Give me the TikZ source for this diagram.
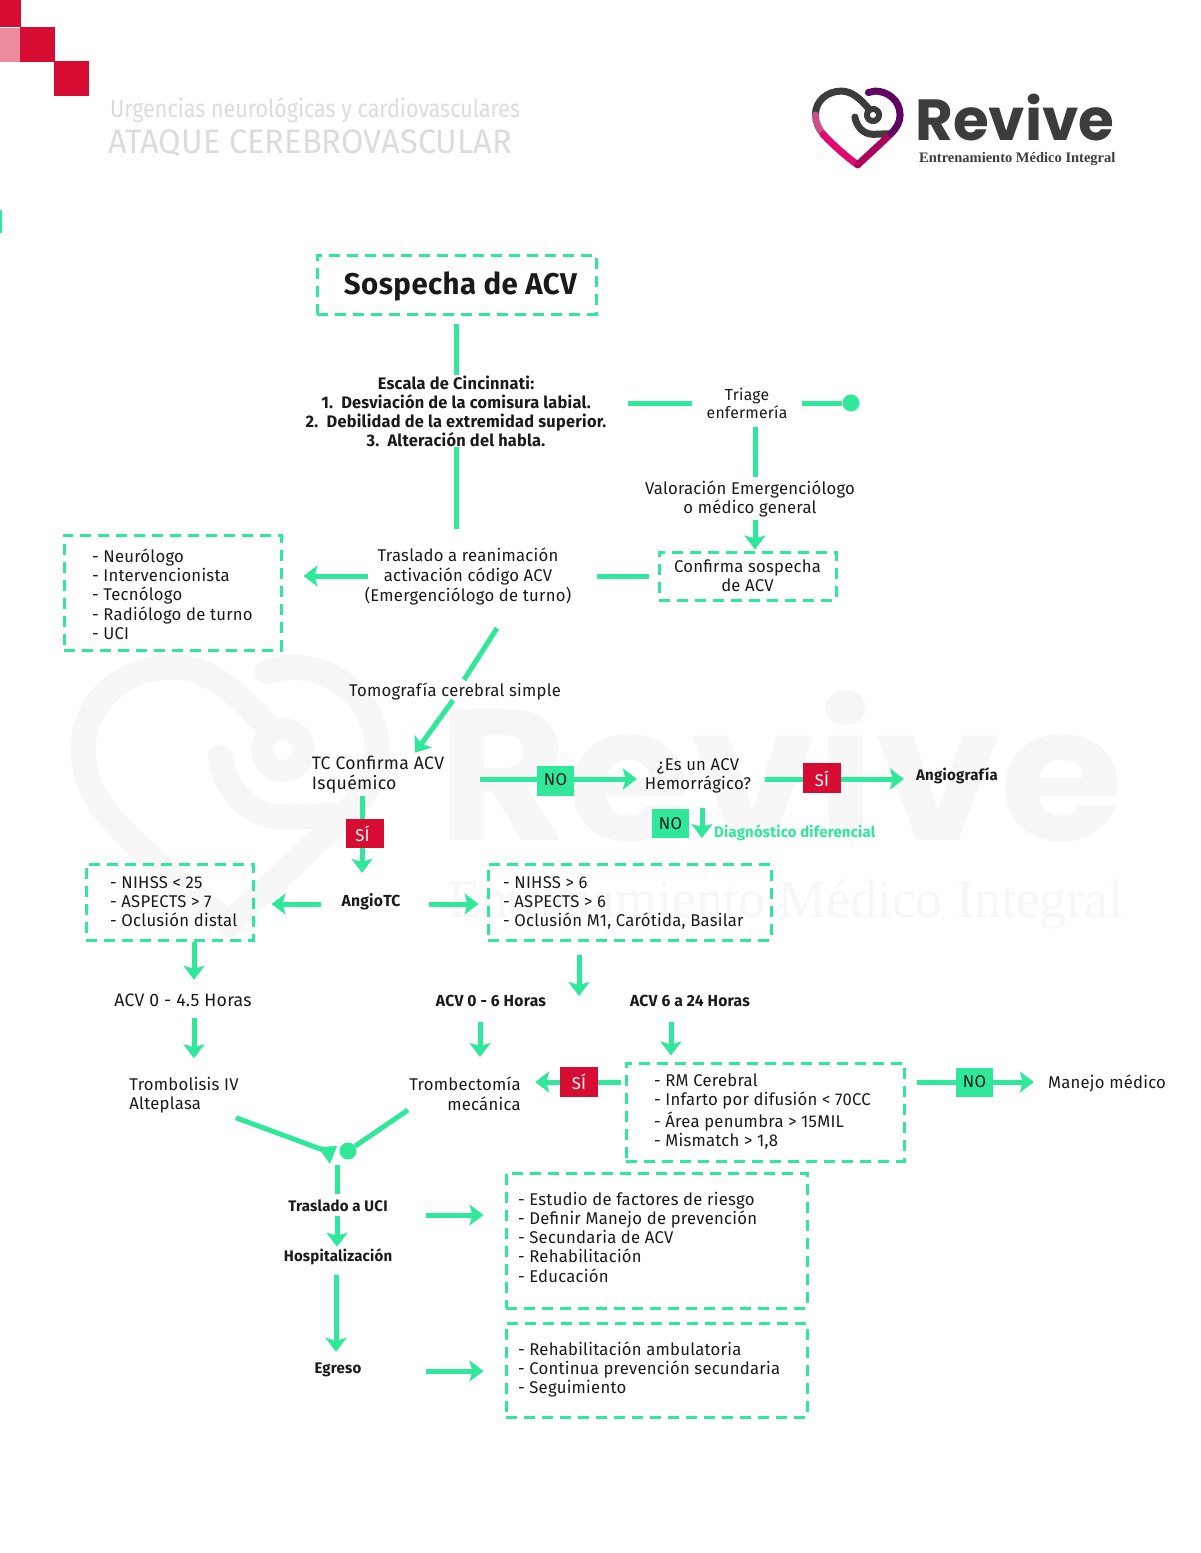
\documentclass[tikz,border=0pt]{standalone}
\usepackage{fontspec}
\usetikzlibrary{arrows.meta,calc}
\setmainfont{Fira Sans}[FakeStretch=0.98,LetterSpace=1.5]
\newfontfamily\headf{Fira Sans}[FakeStretch=0.86]
\newfontfamily\headg{Fira Sans}[FakeStretch=0.96]
\newfontfamily\markf{Poppins}[BoldFont=* Bold]
\newfontfamily\markw{Poppins}[BoldFont=* Bold,BoldFeatures={FakeStretch=1.07}]
\newfontfamily\serf{Liberation Serif}
\definecolor{revgreen}{HTML}{30E89A}
\definecolor{revred}{HTML}{D60C32}
\definecolor{revpink}{HTML}{EE8C9F}
\definecolor{ink}{HTML}{1A1A1A}
\definecolor{wm}{HTML}{F7F7F7}
\definecolor{headgrey}{HTML}{DCDCDC}
\definecolor{logodark}{HTML}{3C3C3C}
\newcommand{\fs}[2]{\fontsize{#1}{#2}\selectfont}
% vertical nudge of a node's text: #1 > 0 moves it up, #1 < 0 moves it down
\newcommand{\nudge}[2]{\raisebox{0pt}[\dimexpr\height-2\dimexpr#1pt\relax\relax][\depth]{#2}}
\newcommand{\boxlist}[4]{\makebox[#1pt][l]{\hspace{#2pt}\nudge{#3}{\begin{tabular}{@{}l@{}}#4\end{tabular}}}}
\newcommand{\tabt}[3]{\nudge{#1}{\begin{tabular}{@{}#2@{}}#3\end{tabular}}}
\tikzset{
  x=1pt,y=-1pt,
  flow/.style={line width=5pt,draw=revgreen},
  arrowflow/.style={flow,-{Stealth[length=14pt,width=21pt,inset=3pt]}},
  dbox/.style={draw=revgreen,line width=3pt,dash pattern=on 11pt off 7pt,inner sep=0pt,text=ink,font=\fs{17}{19}},
  lbl/.style={inner sep=0pt,align=center,text=ink,font=\fs{17}{19}},
  blbl/.style={lbl,font=\fs{16}{18}\bfseries},
  clbl/.style={lbl,font=\fs{15.3}{18}\bfseries},
  yesbadge/.style={fill=revred,text=white,inner sep=0pt,minimum width=38pt,minimum height=30pt,font=\fs{17}{19}},
  nobadge/.style={fill=revgreen,text=ink,inner sep=0pt,minimum width=37pt,minimum height=30pt,font=\fs{17}{19}},
  enddot/.style={circle,fill=revgreen,inner sep=0pt,minimum size=17pt},
}
\newcommand{\heartdark}{(267,727) .. controls (240,695) and (210,667) .. (173,667) .. controls (125,667) and (83,700) .. (83,750)}
\newcommand{\heartinner}{(220,757) .. controls (225,790) and (250,817) .. (283,817) .. controls (305,817) and (325,815) .. (345,815)}
\begin{document}
\begin{tikzpicture}
\useasboundingbox (0,0) rectangle (1200,1553);
\fill[white] (0,0) rectangle (1200,1553);
% corner squares
\fill[revred] (0,0) rectangle (21,27);
\fill[revpink] (0,28) rectangle (20,62);
\fill[revred] (20,27) rectangle (55,62);
\fill[revred] (54,61) rectangle (89,96);
\fill[revgreen] (0,210) rectangle (1.5,233);
% header
\node[anchor=base west,inner sep=0pt,text=headgrey,font=\headf\fs{25}{28}] (head1) at (110,117) {Urgencias neurológicas y cardiovasculares};
\node[anchor=base west,inner sep=0pt,text=headgrey,font=\headg\fs{34}{38}] (head2) at (108,153) {ATAQUE CEREBROVASCULAR};
% watermark
\begin{scope}[draw=wm,line width=25pt,line cap=round]
\draw \heartdark .. controls (83,775) and (95,800) .. (110,817) .. controls (140,850) and (190,895) .. (230,923) .. controls (270,885) and (315,845) .. (345,815) .. controls (365,795) and (377,775) .. (377,750) .. controls (377,700) and (335,667) .. (290,667) -- (267,672);
\draw \heartinner;
\draw[line width=22pt] (283,750) circle (21);
\end{scope}
\node[anchor=base west,inner sep=0pt,text=wm,font=\markw\bfseries\fs{187}{190}] (wm1) at (437,840) {Revive};
\node[anchor=base west,inner sep=0pt,text=wm,font=\serf\fs{53.8}{60}] (wm2) at (448,917) {Entrenamiento Médico Integral};
% logo
\begin{scope}[shift={(791.5,-101)},scale=.288,line cap=round,line width=7pt]
\draw[draw=logodark] \heartdark;
\draw[draw=logodark] \heartinner;
\draw[draw=logodark,line width=6pt] (283,750) circle (21);
\draw[draw=revred!55!violet!70!white] (83,750) .. controls (83,775) and (95,800) .. (110,817);
\draw[draw=revred!70!magenta] (110,817) .. controls (140,850) and (190,895) .. (230,923);
\draw[draw=violet!50!revred] (230,923) .. controls (270,885) and (315,845) .. (345,815);
\draw[draw=violet!75!black] (345,815) .. controls (365,795) and (377,775) .. (377,750) .. controls (377,700) and (335,667) .. (290,667) -- (267,672);
\end{scope}
\node[anchor=base west,inner sep=0pt,text=logodark,font=\markf\bfseries\fs{58}{60}] (logo1) at (915,140) {Revive};
\node[anchor=base west,inner sep=0pt,text=logodark,font=\serf\bfseries\fs{14.5}{16}] (logo2) at (919,162) {Entrenamiento Médico Integral};

% boxes
\node[dbox,minimum width=279pt,minimum height=59pt,font=\fs{30}{34}\bfseries] (sospecha) at (456.5,284.5) {\hspace{8pt}\nudge{-2}{Sospecha de ACV}};
\node[dbox,minimum width=217pt,minimum height=115pt,align=left] (team) at (172.5,592.5) {\boxlist{217}{28}{-4.5}{- Neurólogo\\- Intervencionista\\- Tecnólogo\\- Radiólogo de turno\\- UCI}};
\node[dbox,minimum width=177pt,minimum height=48pt] (confirma) at (747.5,576) {\tabt{-2.5}{c}{Confirma sospecha\\de ACV}};
\node[dbox,minimum width=167pt,minimum height=76pt] (low) at (169.5,902) {\boxlist{167}{24}{-2}{- NIHSS < 25\\- ASPECTS > 7\\- Oclusión distal}};
\node[dbox,minimum width=283pt,minimum height=76pt] (high) at (629.5,902) {\boxlist{283}{15}{-2}{- NIHSS > 6\\- ASPECTS > 6\\- Oclusión M1, Carótida, Basilar}};
\node[dbox,minimum width=278pt,minimum height=98pt] (rm) at (765,1112) {\boxlist{278}{28}{-.5}{- RM Cerebral\\- Infarto por difusión < 70CC\\- Área penumbra > 15MIL\\- Mismatch > 1,8}};
\node[dbox,minimum width=301pt,minimum height=135pt] (estudio) at (656.5,1240.5) {\boxlist{301}{12}{.5}{- Estudio de factores de riesgo\\- Definir Manejo de prevención\\- Secundaria de ACV\\- Rehabilitación\\- Educación}};
\node[dbox,minimum width=301pt,minimum height=94pt] (rehab) at (656.5,1370) {\boxlist{301}{12}{-.5}{- Rehabilitación ambulatoria\\- Continua prevención secundaria\\- Seguimiento}};

% text nodes (sized to the gaps that the connectors leave)
\node[lbl,font=\fs{16.7}{19}\bfseries,minimum width=344pt,minimum height=72pt] (escala) at (456,411) {Escala de Cincinnati:\\1.\ \ Desviación de la comisura labial.\\2.\ \ Debilidad de la extremidad superior.\\3.\ \ Alteración del habla.};
\node[lbl,font=\fs{16}{18},minimum width=110pt,minimum height=48pt] (triage) at (747,403) {Triage\\enfermería};
\node[enddot] (dotA) at (851,403) {};
\node[lbl,minimum width=230pt,minimum height=43pt] (valor) at (750,498.5) {Valoración Emergenciólogo\\o médico general};
\node[lbl,minimum width=202pt,minimum height=94pt] (traslado) at (468,576) {\tabt{-1.5}{c}{Traslado a reanimación\\activación código ACV\\(Emergenciólogo de turno)}};
\node[lbl,minimum height=20pt] (tomo) at (455,690) {\nudge{-1}{Tomografía cerebral simple}};
\node[lbl,font=\fs{18}{19},minimum width=204pt,minimum height=44pt] (tc) at (378,773.5) {\tabt{-2.5}{l}{TC Confirma ACV\\Isquémico}};
\node[nobadge] (noA) at (555.5,781) {\nudge{1.5}{NO}};
\node[lbl,minimum width=122pt,minimum height=44pt] (hemo) at (698,774) {\tabt{-2}{c}{¿Es un ACV\\Hemorrágico?}};
\node[yesbadge] (siA) at (822,778) {\nudge{-1}{SÍ}};
\node[clbl,minimum width=80pt] (angio) at (957,775) {\nudge{-1}{Angiografía}};
\node[nobadge,minimum height=29pt] (noB) at (670.5,823.5) {NO};
\node[lbl,anchor=west,text=revgreen,font=\fs{15.2}{18}\bfseries,minimum height=20pt] (diag) at (714,832) {\nudge{-1}{Diagnóstico diferencial}};
\node[yesbadge,minimum height=29pt] (siB) at (365,833.5) {\hspace{-5pt}SÍ};
\node[blbl,minimum width=100pt,minimum height=28pt] (angiotc) at (371,901) {\nudge{-1}{AngioTC}};
\node[lbl,font=\fs{18}{19},minimum height=36pt] (acvA) at (183,1000) {\nudge{-.5}{ACV 0 - 4.5 Horas}};
\node[lbl,minimum width=112pt,minimum height=40pt] (tromb) at (184,1094) {\tabt{-2.5}{l}{Trombolisis IV\\Alteplasa}};
\node[blbl,minimum height=44pt] (acvB) at (491,1000) {\nudge{-1}{ACV 0 - 6 Horas}};
\node[blbl,minimum height=44pt] (acvC) at (690,1000) {\nudge{-1}{ACV 6 a 24 Horas}};
\coordinate (split) at (579,996);
\node[yesbadge] (siC) at (579,1082) {SÍ};
\node[lbl,minimum width=140pt,minimum height=30pt] (trombec) at (465,1094) {\tabt{-2.5}{r}{Trombectomía\\mecánica}};
\node[nobadge,minimum height=29pt] (noC) at (974.5,1082) {NO};
\node[lbl,minimum width=120pt] (manejo) at (1107,1082) {\nudge{-1}{Manejo médico}};
\node[enddot] (dotB) at (348,1151) {};
\coordinate (tipA) at (326,1151);
\coordinate (junc) at (337,1165);
\node[clbl,minimum width=176pt,minimum height=22pt] (uci) at (338,1205) {\nudge{-1}{Traslado a UCI}};
\node[clbl,minimum height=18pt] (hosp) at (338,1256) {\nudge{-1}{Hospitalización}};
\node[clbl,minimum width=176pt,minimum height=32pt] (egreso) at (338,1368) {\nudge{-2}{Egreso}};

% connectors
\draw[flow,shorten <=8pt] ([xshift=-.5pt]sospecha.south) -- (escala.north);
\draw[flow] ([xshift=0pt,yshift=8pt]escala.east) -- (triage.west);
\draw[flow] (triage.east) -- (dotA);
\draw[flow] ([xshift=8pt]triage.south) -- ([xshift=5pt]valor.north);
\draw[arrowflow,shorten >=1pt] ([xshift=5pt]valor.south) -- ([xshift=7.5pt]confirma.north);
\draw[flow,shorten <=9pt,shorten >=26pt] (confirma.west) -- (traslado.east);
\draw[flow] (escala.south) -- ([xshift=-12pt]traslado.north);
\draw[arrowflow,shorten <=-3pt,shorten >=21pt] (traslado.west) -- ([yshift=16.5pt]team.east);
\draw[flow] ([xshift=29pt,yshift=-5pt]traslado.south) -- ([xshift=9pt]tomo.north);
\draw[arrowflow] ([xshift=-2pt]tomo.south) -- ([xshift=37pt,yshift=-1.5pt]tc.north);
\draw[flow] ([yshift=-5.5pt]tc.east) -- ([yshift=2pt]noA.west);
\draw[arrowflow] ([yshift=2pt]noA.east) -- ([yshift=-5pt]hemo.west);
\draw[flow,shorten <=6pt] ([yshift=-5pt]hemo.east) -- ([yshift=-1pt]siA.west);
\draw[arrowflow,shorten >=12pt] ([yshift=-1pt]siA.east) -- ([yshift=-4pt]angio.west);
\draw[arrowflow] ([xshift=4pt,yshift=-12pt]hemo.south) -- ([xshift=-12pt,yshift=-6pt]diag.west);
\draw[flow] ([xshift=-16pt]tc.south) -- ([xshift=-3pt]siB.north);
\draw[arrowflow,shorten >=14pt] ([xshift=-3pt]siB.south) -- ([xshift=-9pt]angiotc.north);
\draw[arrowflow,shorten >=17pt] ([yshift=-3pt]angiotc.west) -- ([yshift=-2pt]low.east);
\draw[arrowflow,shorten <=8pt,shorten >=8pt] ([yshift=-3pt]angiotc.east) -- ([yshift=-2pt]high.west);
\draw[arrowflow,shorten >=2pt] ([xshift=24.5pt]low.south) -- ([xshift=11pt]acvA.north);
\draw[arrowflow,shorten >=14pt] ([xshift=11pt]acvA.south) -- ([xshift=10pt]tromb.north);
\draw[arrowflow,shorten <=13pt] ([xshift=-50.5pt]high.south) -- (split);
\draw[arrowflow,shorten >=15pt] ([xshift=-11pt]acvB.south) -- ([xshift=15pt]trombec.north);
\draw[arrowflow,shorten >=6pt] ([xshift=-19pt]acvC.south) -- ([xshift=-94pt]rm.north);
\draw[flow,shorten <=4pt] ([yshift=30pt]rm.west) -- (siC.east);
\draw[arrowflow] (siC.west) -- ([yshift=12pt]trombec.east);
\draw[flow,shorten <=11pt] ([yshift=30pt]rm.east) -- (noC.west);
\draw[arrowflow,shorten >=13pt] (noC.east) -- (manejo.west);
\draw[flow] ([xshift=52pt,yshift=-2pt]tromb.south) -- (tipA);
\fill[revgreen] (318,1147) -- (337,1146) -- (330,1164) -- cycle;
\draw[flow] ([xshift=-57pt,yshift=6pt]trombec.south) -- (dotB);
\draw[flow] (junc) -- ([xshift=-1pt]uci.north);
\draw[arrowflow] ([xshift=-1pt]uci.south) -- ([xshift=-1pt]hosp.north);
\draw[arrowflow,shorten <=10pt] ([xshift=-2pt]hosp.south) -- ([xshift=-2pt]egreso.north);
\draw[arrowflow,shorten >=21pt] ([yshift=-10pt]uci.east) -- ([yshift=25.5pt]estudio.west);
\draw[arrowflow,shorten >=21pt] ([yshift=-3pt]egreso.east) -- ([yshift=-1pt]rehab.west);
\end{tikzpicture}
\end{document}
